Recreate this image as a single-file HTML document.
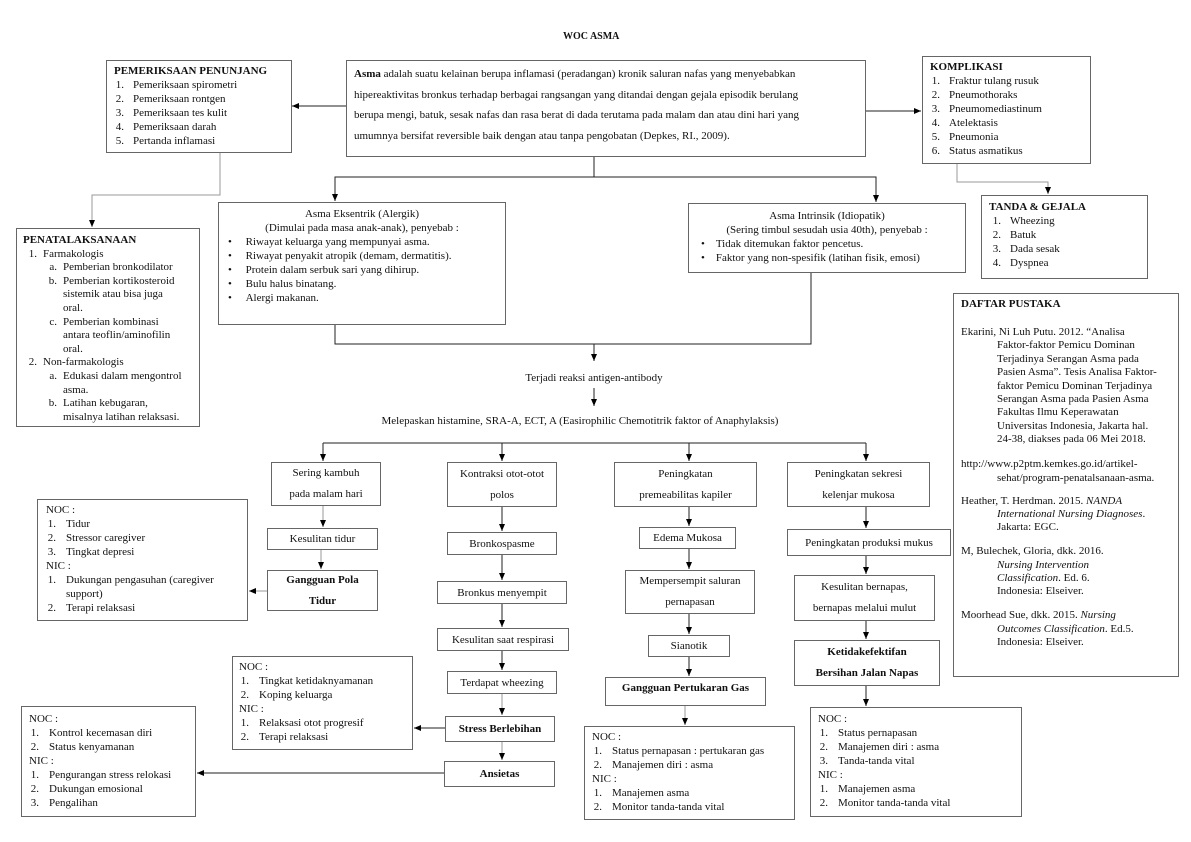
<!DOCTYPE html>
<html><head><meta charset="utf-8">
<style>
*{margin:0;padding:0;box-sizing:border-box}
body{width:1191px;height:842px;background:#fff;position:relative;overflow:hidden;font-family:"Liberation Serif",serif;font-size:11px;color:#111}
.b{position:absolute;border:1px solid #666;background:#fff}
.c{display:flex;align-items:center;justify-content:center;text-align:center;flex-direction:column}
.l{position:absolute;white-space:nowrap;line-height:14px}
.l div{height:14px}
.n{display:inline-block;width:18px;text-align:right;margin-right:8px}
b{font-weight:bold}
svg{position:absolute;left:0;top:0}
.dp div{height:13.4px;line-height:13.4px}
</style></head><body>
<svg width="1191" height="842">
<defs><marker id="a" markerWidth="8" markerHeight="8" refX="7" refY="4" orient="auto" markerUnits="userSpaceOnUse"><path d="M0,1 L7,4 L0,7z" fill="#000"/></marker></defs>
<g stroke="#222" stroke-width="1" fill="none">
<line x1="346" y1="106" x2="292" y2="106" marker-end="url(#a)"/>
<line x1="865" y1="111" x2="921" y2="111" marker-end="url(#a)"/>
<polyline points="220,153 220,195 92,195 92,227" stroke="#999" marker-end="url(#a)"/>
<polyline points="957,164 957,182 1048,182 1048,194" stroke="#999" marker-end="url(#a)"/>
<line x1="594" y1="157" x2="594" y2="177"/>
<polyline points="335,197 335,177 876,177 876,197" />
<line x1="335" y1="178" x2="335" y2="201" marker-end="url(#a)"/>
<line x1="876" y1="178" x2="876" y2="202" marker-end="url(#a)"/>
<polyline points="335,325 335,344 811,344 811,273"/>
<line x1="594" y1="344" x2="594" y2="361" marker-end="url(#a)"/>
<line x1="594" y1="388" x2="594" y2="406" marker-end="url(#a)"/>
<line x1="323" y1="443" x2="866" y2="443"/>
<line x1="323" y1="443" x2="323" y2="461" marker-end="url(#a)"/>
<line x1="502" y1="443" x2="502" y2="461" marker-end="url(#a)"/>
<line x1="689" y1="443" x2="689" y2="461" marker-end="url(#a)"/>
<line x1="866" y1="443" x2="866" y2="461" marker-end="url(#a)"/>
<line x1="323" y1="506" x2="323" y2="527" stroke="#999" marker-end="url(#a)"/>
<line x1="321" y1="550" x2="321" y2="569" stroke="#999" marker-end="url(#a)"/>
<line x1="267" y1="591" x2="249" y2="591" stroke="#999" marker-end="url(#a)"/>
<line x1="502" y1="507" x2="502" y2="531" marker-end="url(#a)"/>
<line x1="502" y1="555" x2="502" y2="580" marker-end="url(#a)"/>
<line x1="502" y1="604" x2="502" y2="627" marker-end="url(#a)"/>
<line x1="502" y1="651" x2="502" y2="670" marker-end="url(#a)"/>
<line x1="502" y1="694" x2="502" y2="715" stroke="#999" marker-end="url(#a)"/>
<line x1="502" y1="742" x2="502" y2="760" stroke="#999" marker-end="url(#a)"/>
<line x1="445" y1="728" x2="414" y2="728" marker-end="url(#a)"/>
<line x1="444" y1="773" x2="197" y2="773" marker-end="url(#a)"/>
<line x1="689" y1="507" x2="689" y2="526" marker-end="url(#a)"/>
<line x1="689" y1="549" x2="689" y2="569" marker-end="url(#a)"/>
<line x1="689" y1="614" x2="689" y2="634" marker-end="url(#a)"/>
<line x1="689" y1="657" x2="689" y2="676" marker-end="url(#a)"/>
<line x1="685" y1="706" x2="685" y2="725" stroke="#999" marker-end="url(#a)"/>
<line x1="866" y1="507" x2="866" y2="528" marker-end="url(#a)"/>
<line x1="866" y1="556" x2="866" y2="574" marker-end="url(#a)"/>
<line x1="866" y1="621" x2="866" y2="639" marker-end="url(#a)"/>
<line x1="866" y1="686" x2="866" y2="706" marker-end="url(#a)"/>
</g>
</svg>

<div class="l" style="left:563px;top:30px;font-size:10px;font-weight:bold">WOC ASMA</div>

<div class="b" style="left:106px;top:60px;width:186px;height:93px">
<div class="l" style="left:7px;top:4px;line-height:13.5px"><div><b>PEMERIKSAAN PENUNJANG</b></div>
<div><span class="n" style="width:10px;margin-right:9px">1.</span>Pemeriksaan spirometri</div>
<div><span class="n" style="width:10px;margin-right:9px">2.</span>Pemeriksaan rontgen</div>
<div><span class="n" style="width:10px;margin-right:9px">3.</span>Pemeriksaan tes kulit</div>
<div><span class="n" style="width:10px;margin-right:9px">4.</span>Pemeriksaan darah</div>
<div><span class="n" style="width:10px;margin-right:9px">5.</span>Pertanda inflamasi</div></div></div>

<div class="b" style="left:346px;top:60px;width:520px;height:97px">
<div class="l" style="left:7px;top:3px;line-height:20.5px"><div style="height:20.5px"><b>Asma</b> adalah suatu kelainan berupa inflamasi (peradangan) kronik saluran nafas yang menyebabkan</div>
<div style="height:20.5px">hipereaktivitas bronkus terhadap berbagai rangsangan yang ditandai dengan gejala episodik berulang</div>
<div style="height:20.5px">berupa mengi, batuk, sesak nafas dan rasa berat di dada terutama pada malam dan atau dini hari yang</div>
<div style="height:20.5px">umumnya bersifat reversible baik dengan atau tanpa pengobatan (Depkes, RI., 2009).</div></div></div>

<div class="b" style="left:922px;top:56px;width:169px;height:108px">
<div class="l" style="left:7px;top:3px"><div><b>KOMPLIKASI</b></div>
<div><span class="n" style="width:10px;margin-right:9px">1.</span>Fraktur tulang rusuk</div>
<div><span class="n" style="width:10px;margin-right:9px">2.</span>Pneumothoraks</div>
<div><span class="n" style="width:10px;margin-right:9px">3.</span>Pneumomediastinum</div>
<div><span class="n" style="width:10px;margin-right:9px">4.</span>Atelektasis</div>
<div><span class="n" style="width:10px;margin-right:9px">5.</span>Pneumonia</div>
<div><span class="n" style="width:10px;margin-right:9px">6.</span>Status asmatikus</div></div></div>

<div class="b" style="left:981px;top:195px;width:167px;height:84px">
<div class="l" style="left:7px;top:4px"><div><b>TANDA &amp; GEJALA</b></div>
<div><span class="n" style="width:12px;margin-right:9px">1.</span>Wheezing</div>
<div><span class="n" style="width:12px;margin-right:9px">2.</span>Batuk</div>
<div><span class="n" style="width:12px;margin-right:9px">3.</span>Dada sesak</div>
<div><span class="n" style="width:12px;margin-right:9px">4.</span>Dyspnea</div></div></div>

<div class="b" style="left:953px;top:293px;width:226px;height:384px">
<div class="l dp" style="left:7px;top:4px"><div style="height:28px"><b>DAFTAR PUSTAKA</b></div>
<div>Ekarini, Ni Luh Putu. 2012. “Analisa</div>
<div style="padding-left:36px">Faktor-faktor Pemicu Dominan</div>
<div style="padding-left:36px">Terjadinya Serangan Asma pada</div>
<div style="padding-left:36px">Pasien Asma”. Tesis Analisa Faktor-</div>
<div style="padding-left:36px">faktor Pemicu Dominan Terjadinya</div>
<div style="padding-left:36px">Serangan Asma pada Pasien Asma</div>
<div style="padding-left:36px">Fakultas Ilmu Keperawatan</div>
<div style="padding-left:36px">Universitas Indonesia, Jakarta hal.</div>
<div style="height:25px;padding-left:36px">24-38, diakses pada 06 Mei 2018.</div>
<div>http://www.p2ptm.kemkes.go.id/artikel-</div>
<div style="height:23px;padding-left:36px">sehat/program-penatalsanaan-asma.</div>
<div>Heather, T. Herdman. 2015. <i>NANDA</i></div>
<div style="padding-left:36px"><i>International Nursing Diagnoses</i>.</div>
<div style="height:24px;padding-left:36px">Jakarta: EGC.</div>
<div>M, Bulechek, Gloria, dkk. 2016.</div>
<div style="padding-left:36px"><i>Nursing Intervention</i></div>
<div style="padding-left:36px"><i>Classification</i>. Ed. 6.</div>
<div style="height:24px;padding-left:36px">Indonesia: Elseiver.</div>
<div>Moorhead Sue, dkk. 2015. <i>Nursing</i></div>
<div style="padding-left:36px"><i>Outcomes Classification</i>. Ed.5.</div>
<div style="padding-left:36px">Indonesia: Elseiver.</div></div></div>

<div class="b" style="left:16px;top:228px;width:184px;height:199px">
<div class="l" style="left:6px;top:5px;line-height:13.6px"><div style="height:13.6px"><b>PENATALAKSANAAN</b></div>
<div style="height:13.6px"><span class="n" style="width:14px;margin-right:6px">1.</span>Farmakologis</div>
<div style="height:13.6px;padding-left:20px"><span class="n" style="width:14px;margin-right:6px">a.</span>Pemberian bronkodilator</div>
<div style="height:13.6px;padding-left:20px"><span class="n" style="width:14px;margin-right:6px">b.</span>Pemberian kortikosteroid</div>
<div style="height:13.6px;padding-left:40px">sistemik atau bisa juga</div>
<div style="height:13.6px;padding-left:40px">oral.</div>
<div style="height:13.6px;padding-left:20px"><span class="n" style="width:14px;margin-right:6px">c.</span>Pemberian kombinasi</div>
<div style="height:13.6px;padding-left:40px">antara teoflin/aminofilin</div>
<div style="height:13.6px;padding-left:40px">oral.</div>
<div style="height:13.6px"><span class="n" style="width:14px;margin-right:6px">2.</span>Non-farmakologis</div>
<div style="height:13.6px;padding-left:20px"><span class="n" style="width:14px;margin-right:6px">a.</span>Edukasi dalam mengontrol</div>
<div style="height:13.6px;padding-left:40px">asma.</div>
<div style="height:13.6px;padding-left:20px"><span class="n" style="width:14px;margin-right:6px">b.</span>Latihan kebugaran,</div>
<div style="height:13.6px;padding-left:40px">misalnya latihan relaksasi.</div></div></div>

<div class="b" style="left:218px;top:202px;width:288px;height:123px">
<div class="l" style="left:0;width:286px;top:4px;text-align:center"><div>Asma Eksentrik (Alergik)</div><div>(Dimulai pada masa anak-anak), penyebab :</div></div>
<div class="l" style="left:9px;top:32px"><div>•&nbsp;&nbsp;&nbsp;&nbsp;&nbsp;Riwayat keluarga yang mempunyai asma.</div>
<div>•&nbsp;&nbsp;&nbsp;&nbsp;&nbsp;Riwayat penyakit atropik (demam, dermatitis).</div>
<div>•&nbsp;&nbsp;&nbsp;&nbsp;&nbsp;Protein dalam serbuk sari yang dihirup.</div>
<div>•&nbsp;&nbsp;&nbsp;&nbsp;&nbsp;Bulu halus binatang.</div>
<div>•&nbsp;&nbsp;&nbsp;&nbsp;&nbsp;Alergi makanan.</div></div></div>

<div class="b" style="left:688px;top:203px;width:278px;height:70px">
<div class="l" style="left:0;width:276px;top:5px;text-align:center"><div>Asma Intrinsik (Idiopatik)</div><div>(Sering timbul sesudah usia 40th), penyebab :</div></div>
<div class="l" style="left:12px;top:33px"><div>•&nbsp;&nbsp;&nbsp;&nbsp;Tidak ditemukan faktor pencetus.</div>
<div>•&nbsp;&nbsp;&nbsp;&nbsp;Faktor yang non-spesifik (latihan fisik, emosi)</div></div></div>

<div class="l" style="left:494px;top:371px;width:200px;text-align:center">Terjadi reaksi antigen-antibody</div>
<div class="l" style="left:330px;top:414px;width:500px;text-align:center">Melepaskan histamine, SRA-A, ECT, A (Easirophilic Chemotitrik faktor of Anaphylaksis)</div>

<!-- column 1 -->
<div class="b c" style="left:271px;top:462px;width:110px;height:44px;line-height:21px"><div>Sering kambuh</div><div>pada malam hari</div></div>
<div class="b c" style="left:267px;top:528px;width:111px;height:22px">Kesulitan tidur</div>
<div class="b c" style="left:267px;top:570px;width:111px;height:41px;line-height:21px;font-weight:bold"><div>Gangguan Pola</div><div>Tidur</div></div>
<div class="b" style="left:37px;top:499px;width:211px;height:122px">
<div class="l" style="left:8px;top:3px"><div>NOC :</div>
<div><span class="n" style="width:10px;margin-right:10px">1.</span>Tidur</div>
<div><span class="n" style="width:10px;margin-right:10px">2.</span>Stressor caregiver</div>
<div><span class="n" style="width:10px;margin-right:10px">3.</span>Tingkat depresi</div>
<div>NIC :</div>
<div><span class="n" style="width:10px;margin-right:10px">1.</span>Dukungan pengasuhan (caregiver</div>
<div style="padding-left:20px">support)</div>
<div><span class="n" style="width:10px;margin-right:10px">2.</span>Terapi relaksasi</div></div></div>

<!-- column 2 -->
<div class="b c" style="left:447px;top:462px;width:110px;height:45px;line-height:21px"><div>Kontraksi otot-otot</div><div>polos</div></div>
<div class="b c" style="left:447px;top:532px;width:110px;height:23px">Bronkospasme</div>
<div class="b c" style="left:437px;top:581px;width:130px;height:23px">Bronkus menyempit</div>
<div class="b c" style="left:437px;top:628px;width:132px;height:23px">Kesulitan saat respirasi</div>
<div class="b c" style="left:447px;top:671px;width:110px;height:23px">Terdapat wheezing</div>
<div class="b c" style="left:445px;top:716px;width:110px;height:26px;font-weight:bold">Stress Berlebihan</div>
<div class="b c" style="left:444px;top:761px;width:111px;height:26px;font-weight:bold">Ansietas</div>
<div class="b" style="left:232px;top:656px;width:181px;height:94px">
<div class="l" style="left:6px;top:3px"><div>NOC :</div>
<div><span class="n" style="width:10px;margin-right:10px">1.</span>Tingkat ketidaknyamanan</div>
<div><span class="n" style="width:10px;margin-right:10px">2.</span>Koping keluarga</div>
<div>NIC :</div>
<div><span class="n" style="width:10px;margin-right:10px">1.</span>Relaksasi otot progresif</div>
<div><span class="n" style="width:10px;margin-right:10px">2.</span>Terapi relaksasi</div></div></div>
<div class="b" style="left:21px;top:706px;width:175px;height:111px">
<div class="l" style="left:7px;top:5px"><div>NOC :</div>
<div><span class="n" style="width:10px;margin-right:10px">1.</span>Kontrol kecemasan diri</div>
<div><span class="n" style="width:10px;margin-right:10px">2.</span>Status kenyamanan</div>
<div>NIC :</div>
<div><span class="n" style="width:10px;margin-right:10px">1.</span>Pengurangan stress relokasi</div>
<div><span class="n" style="width:10px;margin-right:10px">2.</span>Dukungan emosional</div>
<div><span class="n" style="width:10px;margin-right:10px">3.</span>Pengalihan</div></div></div>

<!-- column 3 -->
<div class="b c" style="left:614px;top:462px;width:143px;height:45px;line-height:21px"><div>Peningkatan</div><div>premeabilitas kapiler</div></div>
<div class="b c" style="left:639px;top:527px;width:97px;height:22px">Edema Mukosa</div>
<div class="b c" style="left:625px;top:570px;width:130px;height:44px;line-height:21px"><div>Mempersempit saluran</div><div>pernapasan</div></div>
<div class="b c" style="left:648px;top:635px;width:82px;height:22px">Sianotik</div>
<div class="b" style="left:605px;top:677px;width:161px;height:29px;font-weight:bold;text-align:center;padding-top:4px">Gangguan Pertukaran Gas</div>
<div class="b" style="left:584px;top:726px;width:211px;height:94px">
<div class="l" style="left:7px;top:3px"><div>NOC :</div>
<div><span class="n" style="width:10px;margin-right:10px">1.</span>Status pernapasan : pertukaran gas</div>
<div><span class="n" style="width:10px;margin-right:10px">2.</span>Manajemen diri : asma</div>
<div>NIC :</div>
<div><span class="n" style="width:10px;margin-right:10px">1.</span>Manajemen asma</div>
<div><span class="n" style="width:10px;margin-right:10px">2.</span>Monitor tanda-tanda vital</div></div></div>

<!-- column 4 -->
<div class="b c" style="left:787px;top:462px;width:143px;height:45px;line-height:21px"><div>Peningkatan sekresi</div><div>kelenjar mukosa</div></div>
<div class="b c" style="left:787px;top:529px;width:164px;height:27px">Peningkatan produksi mukus</div>
<div class="b c" style="left:794px;top:575px;width:141px;height:46px;line-height:21px"><div>Kesulitan bernapas,</div><div>bernapas melalui mulut</div></div>
<div class="b c" style="left:794px;top:640px;width:146px;height:46px;line-height:21px;font-weight:bold"><div>Ketidakefektifan</div><div>Bersihan Jalan Napas</div></div>
<div class="b" style="left:810px;top:707px;width:212px;height:110px">
<div class="l" style="left:7px;top:4px"><div>NOC :</div>
<div><span class="n" style="width:10px;margin-right:10px">1.</span>Status pernapasan</div>
<div><span class="n" style="width:10px;margin-right:10px">2.</span>Manajemen diri : asma</div>
<div><span class="n" style="width:10px;margin-right:10px">3.</span>Tanda-tanda vital</div>
<div>NIC :</div>
<div><span class="n" style="width:10px;margin-right:10px">1.</span>Manajemen asma</div>
<div><span class="n" style="width:10px;margin-right:10px">2.</span>Monitor tanda-tanda vital</div></div></div>
</body></html>
